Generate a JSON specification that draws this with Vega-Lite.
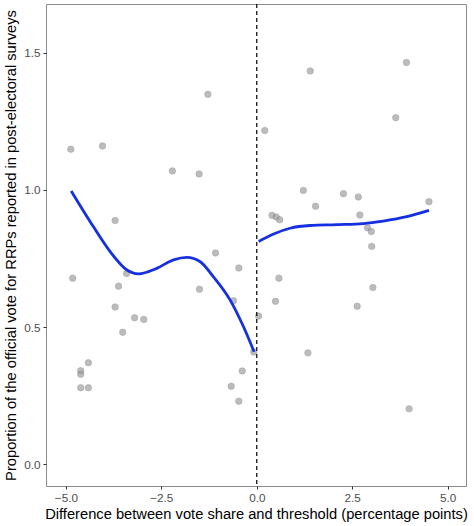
{
  "$schema": "https://vega.github.io/schema/vega-lite/v6.json",
  "width": 420,
  "height": 482,
  "autosize": "none",
  "padding": {"left": 46, "top": 4, "right": 8, "bottom": 40},
  "background": "white",
  "config": {
    "view": {"stroke": "#8c8c8c", "strokeWidth": 1},
    "font": "Liberation Sans",
    "axis": {
      "grid": false,
      "domain": false,
      "tickColor": "#333333",
      "tickSize": 3,
      "labelColor": "#4d4d4d",
      "labelFontSize": 11.7,
      "labelFont": "Liberation Sans",
      "titleFont": "Liberation Sans",
      "titleFontSize": 14.7,
      "titleFontWeight": "normal",
      "titleColor": "black"
    }
  },
  "datasets": {
    "points": [
      {"diff": -4.87, "prop": 1.148}, {"diff": -4.04, "prop": 1.160},
      {"diff": -2.21, "prop": 1.069}, {"diff": -1.51, "prop": 1.058},
      {"diff": -1.28, "prop": 1.348}, {"diff": -3.71, "prop": 0.888},
      {"diff": -1.08, "prop": 0.770}, {"diff": -0.47, "prop": 0.715},
      {"diff": -4.82, "prop": 0.678}, {"diff": -3.41, "prop": 0.695},
      {"diff": -3.62, "prop": 0.649}, {"diff": -1.50, "prop": 0.638},
      {"diff": -0.61, "prop": 0.596}, {"diff": -3.71, "prop": 0.573},
      {"diff": -3.20, "prop": 0.534}, {"diff": -2.96, "prop": 0.528},
      {"diff": -3.51, "prop": 0.481}, {"diff": -0.08, "prop": 0.409},
      {"diff": -4.41, "prop": 0.370}, {"diff": -4.61, "prop": 0.341},
      {"diff": -4.61, "prop": 0.328}, {"diff": -4.61, "prop": 0.279},
      {"diff": -4.41, "prop": 0.279}, {"diff": -0.38, "prop": 0.340},
      {"diff": -0.67, "prop": 0.284}, {"diff": -0.47, "prop": 0.230},
      {"diff": 0.05, "prop": 0.540}, {"diff": 1.40, "prop": 1.433},
      {"diff": 3.92, "prop": 1.464}, {"diff": 3.64, "prop": 1.263},
      {"diff": 0.21, "prop": 1.216}, {"diff": 1.22, "prop": 0.998},
      {"diff": 2.27, "prop": 0.986}, {"diff": 2.66, "prop": 0.974},
      {"diff": 4.51, "prop": 0.957}, {"diff": 1.54, "prop": 0.940},
      {"diff": 0.40, "prop": 0.907}, {"diff": 0.51, "prop": 0.901},
      {"diff": 0.60, "prop": 0.891}, {"diff": 2.70, "prop": 0.908},
      {"diff": 2.90, "prop": 0.862}, {"diff": 3.00, "prop": 0.848},
      {"diff": 3.01, "prop": 0.794}, {"diff": 0.58, "prop": 0.678},
      {"diff": 3.04, "prop": 0.644}, {"diff": 0.49, "prop": 0.594},
      {"diff": 2.63, "prop": 0.576}, {"diff": 1.34, "prop": 0.406},
      {"diff": 3.99, "prop": 0.202}
    ],
    "fit": [
      {"side": "below", "diff": -4.86, "prop": 0.996},
      {"side": "below", "diff": -4.28, "prop": 0.866},
      {"side": "below", "diff": -3.84, "prop": 0.775},
      {"side": "below", "diff": -3.40, "prop": 0.708},
      {"side": "below", "diff": -3.10, "prop": 0.694},
      {"side": "below", "diff": -2.62, "prop": 0.714},
      {"side": "below", "diff": -2.18, "prop": 0.745},
      {"side": "below", "diff": -1.83, "prop": 0.754},
      {"side": "below", "diff": -1.48, "prop": 0.738},
      {"side": "below", "diff": -1.14, "prop": 0.684},
      {"side": "below", "diff": -0.70, "prop": 0.599},
      {"side": "below", "diff": -0.35, "prop": 0.502},
      {"side": "below", "diff": -0.07, "prop": 0.410},
      {"side": "above", "diff": 0.05, "prop": 0.812},
      {"side": "above", "diff": 0.44, "prop": 0.839},
      {"side": "above", "diff": 0.87, "prop": 0.860},
      {"side": "above", "diff": 1.40, "prop": 0.870},
      {"side": "above", "diff": 2.09, "prop": 0.873},
      {"side": "above", "diff": 2.79, "prop": 0.877},
      {"side": "above", "diff": 3.31, "prop": 0.886},
      {"side": "above", "diff": 3.93, "prop": 0.902},
      {"side": "above", "diff": 4.51, "prop": 0.925}
    ],
    "cutoff": [{"diff": 0}]
  },
  "encoding": {
    "x": {
      "field": "diff",
      "type": "quantitative",
      "scale": {"domain": [-5.52, 5.48], "nice": false, "zero": false},
      "axis": {"values": [-5, -2.5, 0, 2.5, 5], "format": ".1f", "labelPadding": 3, "titlePadding": 3},
      "title": "Difference between vote share and threshold (percentage points)"
    }
  },
  "layer": [
    {
      "data": {"name": "points"},
      "mark": {"type": "circle", "size": 42, "color": "#999999", "opacity": 0.65, "stroke": "#7a7a7a", "strokeWidth": 0.6},
      "encoding": {
        "y": {
          "field": "prop",
          "type": "quantitative",
          "scale": {"domain": [-0.079, 1.677], "nice": false, "zero": false},
          "axis": {"values": [0, 0.5, 1, 1.5], "format": ".1f", "labelPadding": 3, "titlePadding": 5},
          "title": "Proportion of the official vote for RRPs reported in post-electoral surveys"
        }
      }
    },
    {
      "data": {"name": "cutoff"},
      "mark": {"type": "rule", "color": "black", "strokeDash": [4, 3], "strokeWidth": 1.2},
      "encoding": {}
    },
    {
      "data": {"name": "fit"},
      "mark": {"type": "line", "color": "#1530e0", "strokeWidth": 2.8, "interpolate": "monotone"},
      "encoding": {
        "y": {"field": "prop", "type": "quantitative"},
        "detail": {"field": "side"}
      }
    }
  ]
}
